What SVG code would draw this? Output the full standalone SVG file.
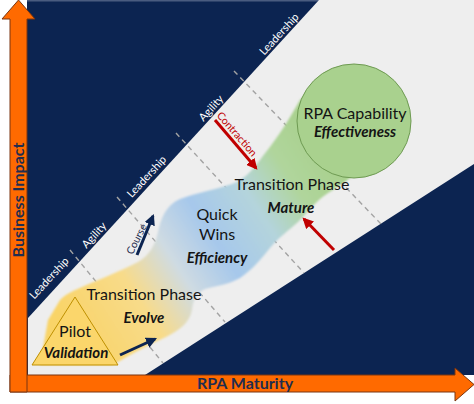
<svg xmlns="http://www.w3.org/2000/svg" width="474" height="404" viewBox="0 0 474 404">
<style>
text{font-family:Lato,"Liberation Sans",sans-serif}
.lab{fill:#fff;font-size:11px;text-anchor:middle}
.main{fill:#141414;font-size:16px;text-anchor:middle}
.em{fill:#141414;font-size:15px;font-weight:bold;font-style:italic;text-anchor:middle}
.dash{stroke:#a3a3a3;stroke-width:1.4;stroke-dasharray:5 4;fill:none}
.axis{fill:#ff6a00;stroke:#7a3510;stroke-width:1}
.axt{fill:#1f2d4f;font-size:16px;font-weight:bold;text-anchor:middle}
.nv{stroke:#0c2451;stroke-width:3;fill:none}
.rd{stroke:#c00000;stroke-width:3;fill:none}
</style>
<defs>
<marker id="hn" viewBox="0 0 10 10" refX="8" refY="5" markerWidth="11" markerHeight="11" markerUnits="userSpaceOnUse" orient="auto"><path d="M0,0 L10,5 L0,10 Z" fill="#0c2451"/></marker>
<marker id="hr" viewBox="0 0 10 10" refX="8" refY="5" markerWidth="11" markerHeight="11" markerUnits="userSpaceOnUse" orient="auto"><path d="M0,0 L10,5 L0,10 Z" fill="#c00000"/></marker>
<linearGradient id="blobg" gradientUnits="userSpaceOnUse" x1="70" y1="330" x2="330" y2="160">
<stop offset="0" stop-color="#f9d468"/>
<stop offset="0.24" stop-color="#f8db8a"/>
<stop offset="0.4" stop-color="#cfdbe2"/>
<stop offset="0.55" stop-color="#a6c8eb"/>
<stop offset="0.72" stop-color="#b4d4dc"/>
<stop offset="0.86" stop-color="#b0d59c"/>
<stop offset="1" stop-color="#a9d18e"/>
</linearGradient>
<filter id="soft" x="-5%" y="-5%" width="110%" height="110%"><feGaussianBlur stdDeviation="1"/></filter>
</defs>

<g id="background">
<rect x="27" y="0" width="447" height="375" fill="#0c2451"/>
<rect x="27" y="0" width="447" height="1.5" fill="#4a5c80"/>
<polygon points="28,318 319,0 474,0 474,164 145,375 28,375" fill="#eeeeee"/>
</g>

<g id="connectors">
<line class="dash" x1="70" y1="250" x2="163" y2="363"/>
<line class="dash" x1="117" y1="197" x2="225" y2="322"/>
<line class="dash" x1="176" y1="133" x2="304" y2="273"/>
<line class="dash" x1="234" y1="71" x2="381" y2="224"/>
</g>

<g id="labels">
<text class="lab" transform="translate(49,278) rotate(-47.5)" dy="0.35em">Leadership</text>
<text class="lab" transform="translate(94,235) rotate(-47.5)" dy="0.35em">Agility</text>
<text class="lab" transform="translate(146.5,176.5) rotate(-47.5)" dy="0.35em">Leadership</text>
<text class="lab" transform="translate(211,108) rotate(-47.5)" dy="0.35em">Agility</text>
<text class="lab" transform="translate(279,34) rotate(-47.5)" dy="0.35em">Leadership</text>
</g>

<g id="blob">
<path filter="url(#soft)" fill="url(#blobg)" d="M40,365 L48,320 L60,300 C68,292 76,290 82,287 C98,280 118,272 138,262 C150,255 155,245 158,232 C161,218 166,205 180,199 C195,193 215,190 232,184 C248,178 256,165 266,152 C278,137 290,118 300,100 L330,75 L395,110 L350,178 C340,186 328,192 320,199 C312,206 305,215 298,222 C288,231 278,238 270,248 C262,258 252,270 240,278 C228,285 215,286 205,289 C196,293 193,301 192,310 C190,322 180,330 166,337 C150,344 135,352 118,362 L112,365 Z"/>
</g>

<g id="capability">
<circle cx="354" cy="121" r="57" fill="#a9d18e" stroke="#6e9a52" stroke-width="1"/>
<text class="main" x="355" y="119">RPA Capability</text>
<text class="em" x="355" y="137">Effectiveness</text>
</g>

<g id="mature">
<text class="main" x="292" y="190">Transition Phase</text>
<text class="em" x="291" y="213">Mature</text>
</g>

<g id="quickwins">
<text class="main" x="217" y="220">Quick</text>
<text class="main" x="217" y="240">Wins</text>
<text class="em" x="217" y="263">Efficiency</text>
</g>

<g id="evolve">
<text class="main" x="144" y="300">Transition Phase</text>
<text class="em" x="144" y="323">Evolve</text>
</g>

<g id="pilot">
<polygon points="75,297 32,365 118,365" fill="#fbd66b" stroke="#bf9000" stroke-width="1"/>
<text class="main" x="75" y="337">Pilot</text>
<text class="em" x="76" y="358">Validation</text>
</g>

<g id="arrows">
<line class="nv" x1="120" y1="355" x2="155" y2="339" marker-end="url(#hn)"/>
<line class="nv" x1="137" y1="255" x2="153" y2="216" marker-end="url(#hn)"/>
<text transform="translate(136.5,239) rotate(-63)" dy="0.35em" style="fill:#1f2d4f;font-size:10.5px;text-anchor:middle">Course</text>
<line class="rd" x1="215" y1="120" x2="256" y2="168" marker-end="url(#hr)"/>
<text transform="translate(237,134) rotate(49)" dy="0.35em" style="fill:#c00000;font-size:10.5px;text-anchor:middle">Contraction</text>
<line class="rd" x1="334" y1="250" x2="304" y2="219" marker-end="url(#hr)"/>
</g>

<g id="axes">
<polygon class="axis" points="10,375 455,375 455,368 474,384.5 455,401 455,392 10,392"/>
<polygon class="axis" points="10,392 10,19 2,19 18.5,0 35,19 27,19 27,392"/>
<text class="axt" x="245" y="389">RPA Maturity</text>
<text class="axt" transform="translate(18.5,200) rotate(-90)" dy="0.35em">Business Impact</text>
</g>
</svg>
